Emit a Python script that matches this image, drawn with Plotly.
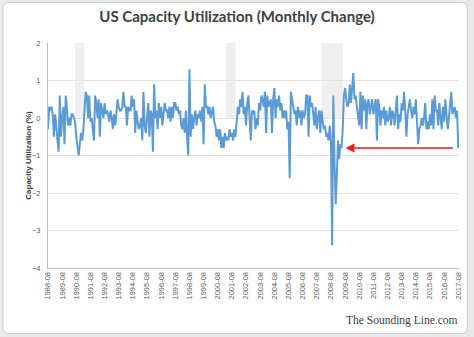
import pandas as pd
import plotly.graph_objects as go

# Monthly change in US capacity utilization (percentage points), starting 1988-08
chg_1988_1992 = [
    -0.3, 0.3, 0.2, 0.3, 0.1, -0.5, 0.1, -0.2, -0.7, -0.9, 0.6, -0.5,
    0.0, 0.3, -0.7, 0.6, 0.3, -0.2, 0.0, -0.2, 0.1, 0.1, 0.0, -0.1,
    -0.5, -0.8, -1.0, -0.7, -0.4, -0.6, -0.3, 0.2, 0.7, 0.6, 0.0, 0.6,
    -0.1, 0.0, -0.3, -0.6, 0.6, 0.4, 0.0, 0.5, -0.5, 0.4, 0.2, 0.0,
    0.4, 0.1, 0.2, 0.1, -0.1, 0.2, 0.0, -0.3, 0.1, -0.2, 0.1, 0.5,
]
chg_1993_1997 = [
    0.3, 0.2, 0.2, 0.3, 0.7, 0.3, 0.3, -0.2, 0.3, 0.2, 0.2, 0.6,
    0.3, 0.5, -0.4, 0.2, -0.1, -0.3, -0.2, 0.0, -0.6, 0.7, -0.2, -0.4,
    0.0, 0.4, -0.5, 0.2, 0.1, -0.9, 0.9, 0.0, 0.2, -0.3, 0.4, 0.0,
    0.3, -0.2, 0.1, 0.4, 0.2, 0.2, 0.0, 0.3, -0.1, 0.3, 0.0, 0.4,
    0.4, 0.2, 0.3, 0.1, 0.2, -0.2, -0.3, 0.0, -0.4, 0.2, -0.5, -1.0,
]
chg_1998_2002 = [
    1.3, -0.5, 0.1, -0.3, 0.0, 0.2, -0.2, 0.1, 0.0, 0.2, -0.1, 0.3,
    -0.7, 0.9, 0.3, 0.3, 0.1, 0.3, 0.0, 0.2, 0.3, -0.1, -0.2, -0.5,
    -0.3, -0.6, -0.3, -0.8, -0.5, -0.8, -0.4, -0.6, -0.5, -0.6, -0.3, -0.5,
    -0.4, -0.6, -0.3, -0.5, -0.2, 0.3, 0.1, 0.5, 0.3, 0.7, 0.1, 0.3,
    -0.2, 0.4, 0.6, 0.1, -0.6, 0.2, 0.1, 0.2, -0.3, 0.0, -0.2, 0.4,
]
chg_2003_2007 = [
    0.2, 0.6, 0.5, 0.3, 0.7, -0.4, 0.6, 0.3, 0.4, 0.5, -0.4, 0.5,
    0.8, 0.0, 0.5, 0.3, 0.6, 0.2, 0.4, 0.0, 0.2, 0.0, 0.2, -0.3,
    -0.1, -1.6, 0.7, 0.5, 0.3, 0.1, 0.2, -0.2, 0.3, 0.0, 0.2, -0.2,
    0.2, 0.0, 0.1, 0.6, 0.6, -0.5, 0.6, 0.3, 0.4, 0.1, -0.2, 0.3,
    -0.3, 0.0, 0.2, -0.4, 0.2, -0.1, -0.3, -0.2, -0.5, -0.4, -0.6, -0.2,
]
chg_2008_2012 = [
    -0.6, -3.4, 0.6, -1.2, -2.3, -1.5, -0.6, -1.1, -0.7, -0.8, -0.3, 0.6,
    0.8, 0.5, 0.3, 0.4, 0.9, 0.4, 0.8, 1.2, 0.5, 0.6, 0.3, 0.1,
    -0.2, 0.7, -0.3, 0.6, 0.2, 0.5, -0.3, 0.4, 0.5, 0.1, 0.3, 0.5,
    0.1, 0.3, 0.5, -0.6, 0.5, 0.3, -0.2, 0.2, 0.0, 0.3, -0.2, 0.2,
    -0.1, 0.0, 0.3, -0.2, 0.2, 0.1, -0.2, 0.2, 0.6, -0.3, 0.1, -0.1,
]
chg_2013_2017 = [
    0.4, 0.2, 0.7, 0.2, -0.5, 0.1, 0.3, 0.5, 0.2, 0.0, 0.3, 0.1,
    0.5, -0.2, -0.7, -0.3, -0.2, 0.0, -0.2, 0.0, 0.4, -0.3, -0.1, -0.3,
    0.1, -0.2, 0.5, -0.3, 0.6, 0.2, 0.2, -0.2, 0.4, 0.0, -0.3, 0.3,
    -0.1, 0.5, 0.2, -0.3, 0.0, 0.4, 0.7, 0.1, 0.2, 0.3, 0.0, 0.2,
    -0.8,
]

values = chg_1988_1992 + chg_1993_1997 + chg_1998_2002 + chg_2003_2007 + chg_2008_2012 + chg_2013_2017
months = pd.date_range("1988-08-01", periods=len(values), freq="MS")

tick_dates = pd.date_range("1988-08-01", "2017-08-01", freq="12MS")
tick_labels = [d.strftime("%Y-%m") for d in tick_dates]

recessions = [("1990-07-01", "1991-03-01"), ("2001-03-01", "2001-11-01"), ("2007-12-01", "2009-06-01")]

W, H = 474, 337
ML, MR, MT, MB = 48, 11, 43, 69
PW, PH = W - ML - MR, H - MT - MB


def px(xp):
    return (xp - ML) / PW


def py(yp):
    return (H - MB - yp) / PH


fig = go.Figure()
fig.add_trace(go.Scatter(x=months, y=values, mode="lines",
                         line=dict(color="#5b9bd5", width=2), hoverinfo="x+y"))

shapes = []
# card background with rounded corners
x0, x1, y0, y1, r = 2.5, 471.5, 2.5, 333.5, 6
path = (f"M {px(x0 + r)},{py(y0)} L {px(x1 - r)},{py(y0)} "
        f"Q {px(x1)},{py(y0)} {px(x1)},{py(y0 + r)} L {px(x1)},{py(y1 - r)} "
        f"Q {px(x1)},{py(y1)} {px(x1 - r)},{py(y1)} L {px(x0 + r)},{py(y1)} "
        f"Q {px(x0)},{py(y1)} {px(x0)},{py(y1 - r)} L {px(x0)},{py(y0 + r)} "
        f"Q {px(x0)},{py(y0)} {px(x0 + r)},{py(y0)} Z")
shapes.append(dict(type="path", path=path, xref="paper", yref="paper",
                   fillcolor="white", line=dict(color="#cfcfcf", width=1), layer="below"))
for a, b in recessions:
    shapes.append(dict(type="rect", xref="x", yref="y", x0=a, x1=b, y0=0, y1=2,
                       fillcolor="#efefef", line=dict(width=0), layer="below"))

fig.update_layout(
    width=W, height=H, autosize=False,
    margin=dict(l=ML, r=MR, t=MT, b=MB),
    paper_bgcolor="#e9e9e9", plot_bgcolor="rgba(0,0,0,0)",
    showlegend=False,
    shapes=shapes,
    title=dict(text="<b>US Capacity Utilization (Monthly Change)</b>",
               font=dict(family="Lato", size=15, color="#404040"),
               x=0.5, xref="container", xanchor="center",
               y=1 - 17 / H, yref="container", yanchor="middle"),
    xaxis=dict(type="date", range=["1988-08-01", "2017-08-20"],
               tickvals=tick_dates, ticktext=tick_labels, tickangle=-90,
               tickfont=dict(family="Liberation Sans", size=7.5, color="#595959"),
               showgrid=False, showline=True, linecolor="#bfbfbf", linewidth=1,
               ticks="", zeroline=False),
    yaxis=dict(range=[-4, 2], dtick=1, tick0=0,
               tickfont=dict(family="Liberation Sans", size=7.5, color="#595959"),
               showgrid=True, gridcolor="#e2e2e2", gridwidth=1,
               showline=True, linecolor="#bfbfbf", linewidth=1,
               zeroline=False, ticks="", ticklabelstandoff=5),
)

fig.add_annotation(text="<b>Capacity Utilization (%)</b>", xref="paper", yref="paper",
                   x=px(28), y=0.5, xanchor="center", yanchor="middle",
                   textangle=-90, showarrow=False, borderpad=0,
                   font=dict(family="Liberation Sans", size=8, color="#404040"))
fig.add_annotation(text="The Sounding Line.com", xref="paper", yref="paper",
                   x=px(463), y=py(320), xanchor="right", yanchor="middle", showarrow=False,
                   borderpad=0,
                   font=dict(family="Liberation Serif", size=11.5, color="#404040"))
fig.add_annotation(x="2009-08-10", y=-0.8, ax="2017-04-25", ay=-0.8,
                   xref="x", yref="y", axref="x", ayref="y", text="",
                   showarrow=True, arrowhead=2, arrowsize=1.2, arrowwidth=1.5,
                   arrowcolor="#e3211c")

fig.write_html("out.html")
